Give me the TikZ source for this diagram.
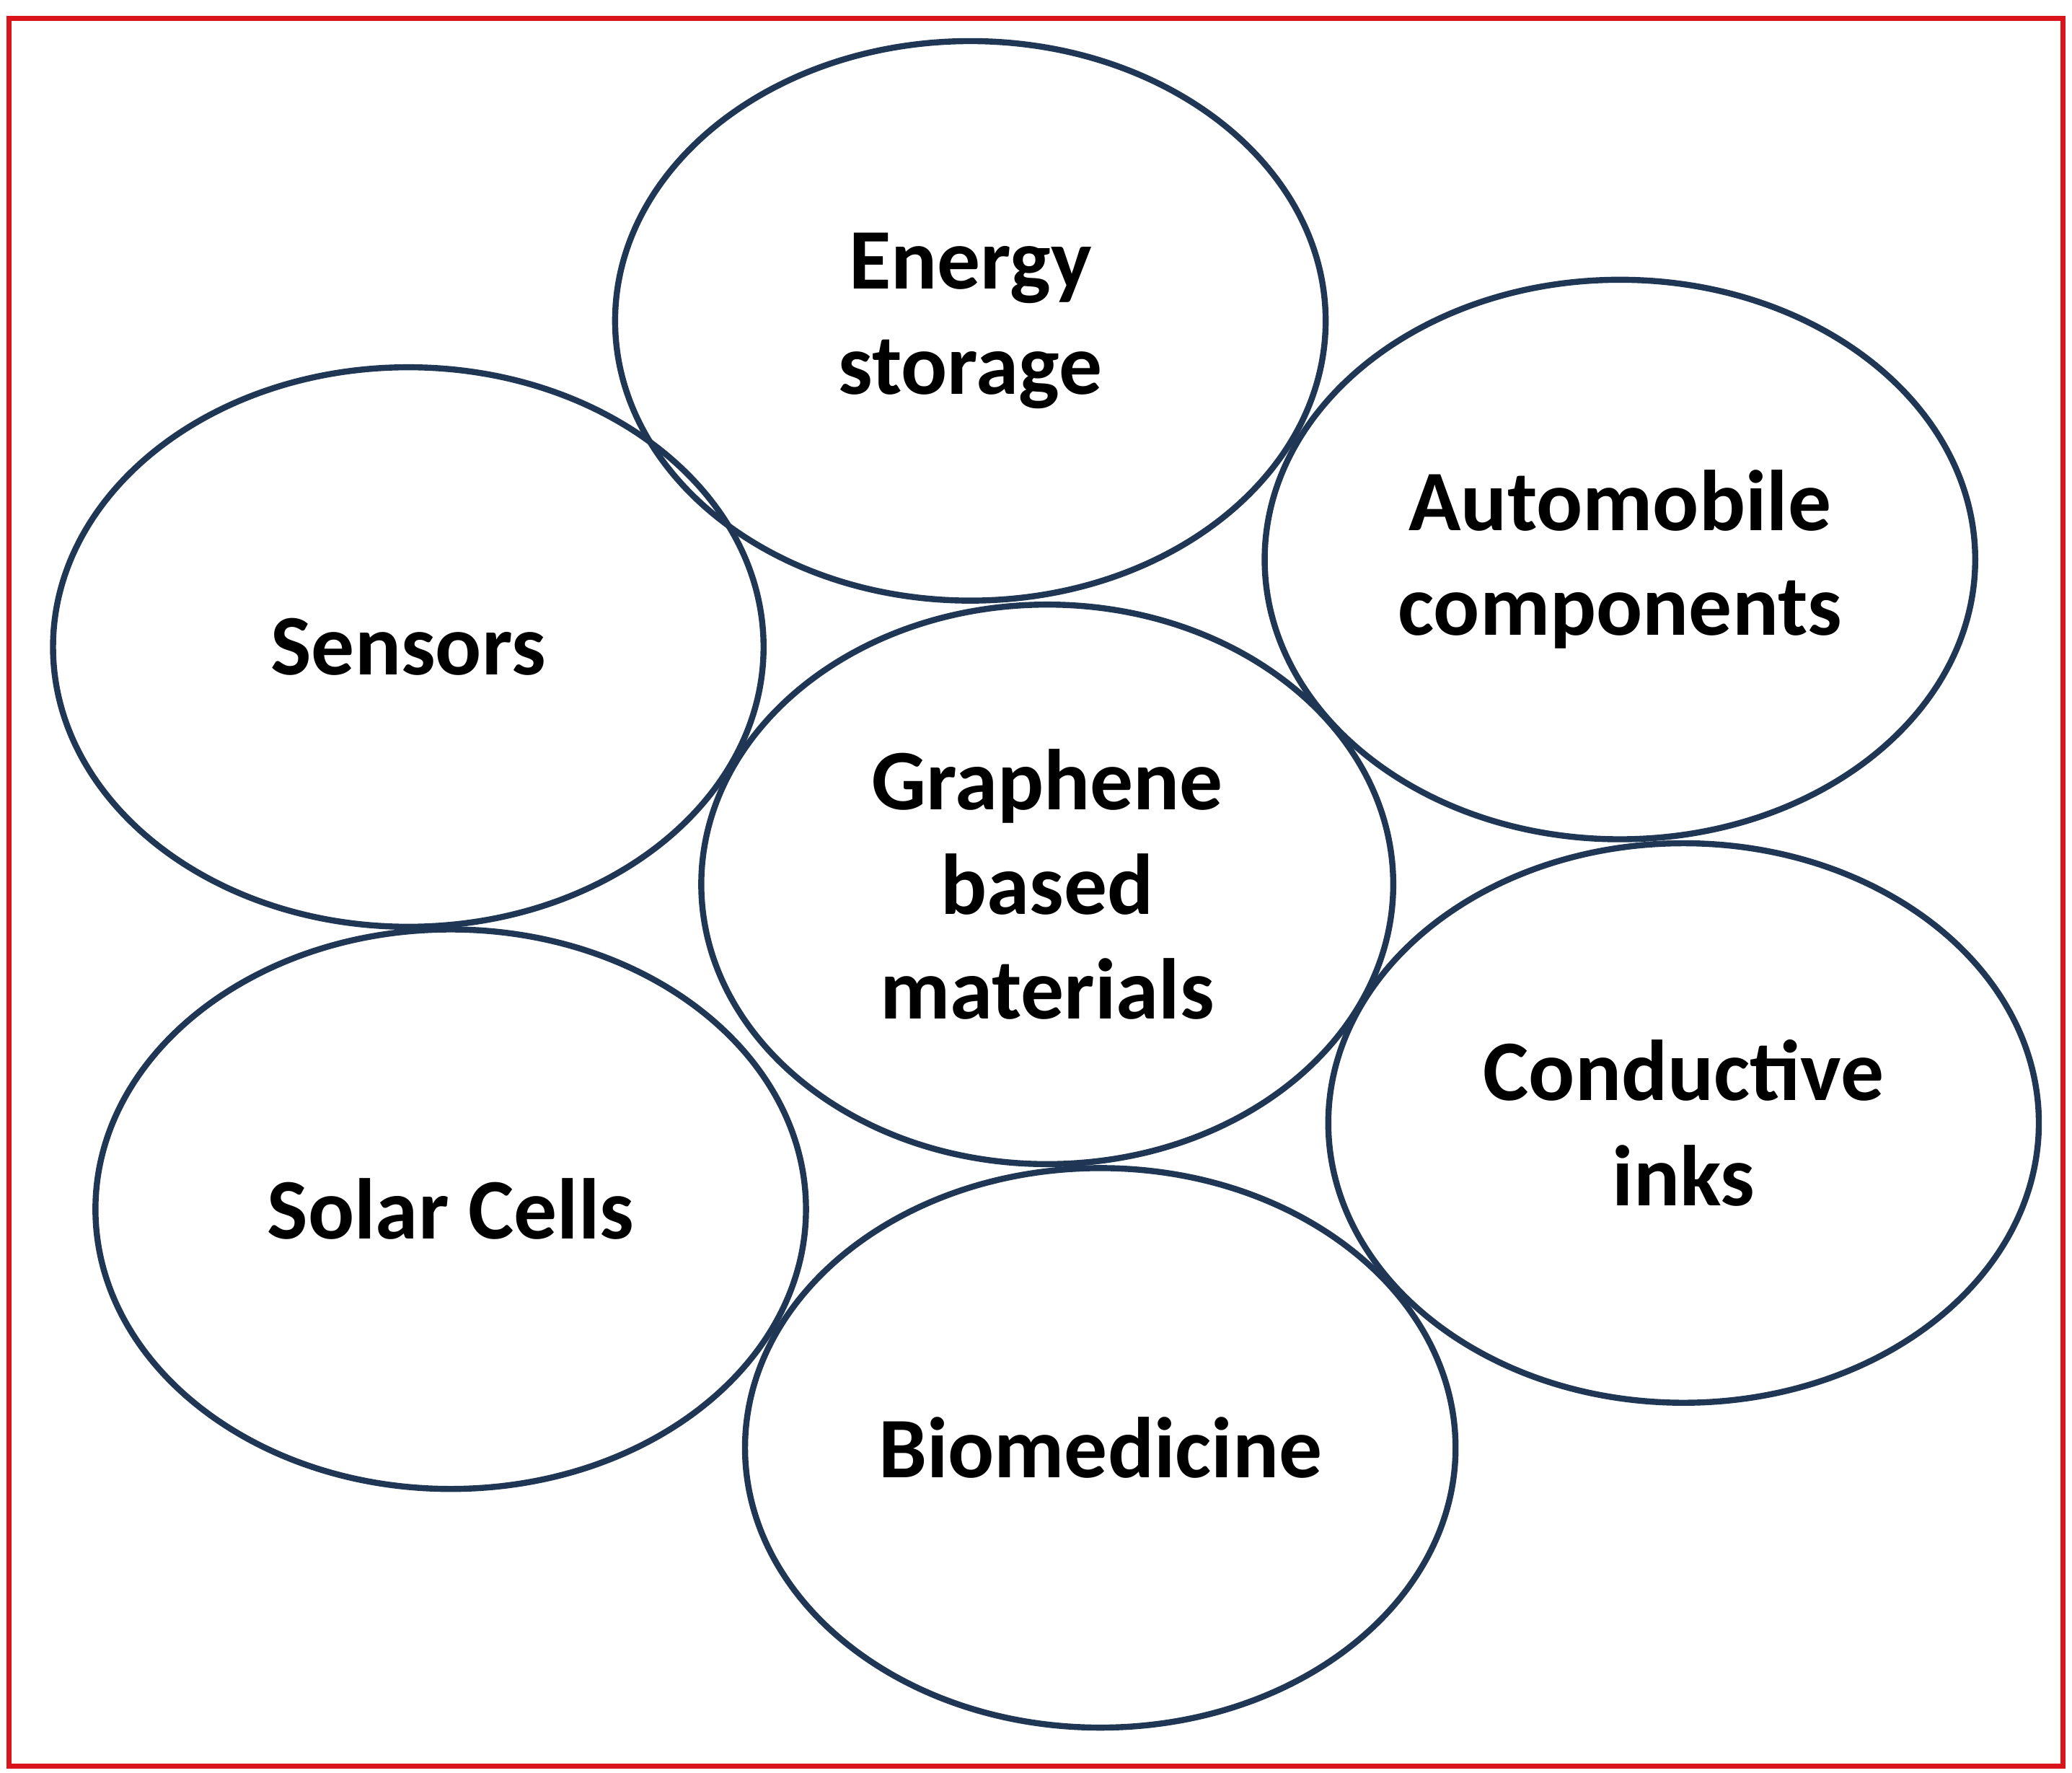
\documentclass[tikz,border=0pt]{standalone}
\usepackage{fontspec}
\setmainfont{Carlito}
\usetikzlibrary{shapes.geometric}
\definecolor{navy}{HTML}{1F3754}
\definecolor{frame}{HTML}{D9141B}
\tikzset{bub/.style={ellipse,draw=navy,line width=1.3pt,minimum width=5.36cm,minimum height=4.22cm,inner sep=0pt,align=center,font=\fontsize{18.5}{22.5}\selectfont\bfseries}}
\begin{document}
\begin{tikzpicture}
\useasboundingbox (0,0) rectangle (15.63,-13.37);
\draw[frame,line width=1.1pt] (0.07,-0.14) rectangle (15.56,-13.32);
\node[bub] (es) at (7.32,-2.42) {Energy\\storage};
\node[bub] (se) at (3.08,-4.88) {Sensors};
\node[bub] (au) at (12.22,-4.22) {Automobile\\components};
\node[bub,minimum width=5.22cm] (gr) at (7.90,-6.67) {Graphene\\based\\materials};
\node[bub] (ci) at (12.70,-8.47) {Conductive\\inks};
\node[bub] (sc) at (3.40,-9.12) {Solar Cells};
\node[bub] (bi) at (8.30,-10.92) {Biomedicine};
\end{tikzpicture}
\end{document}
